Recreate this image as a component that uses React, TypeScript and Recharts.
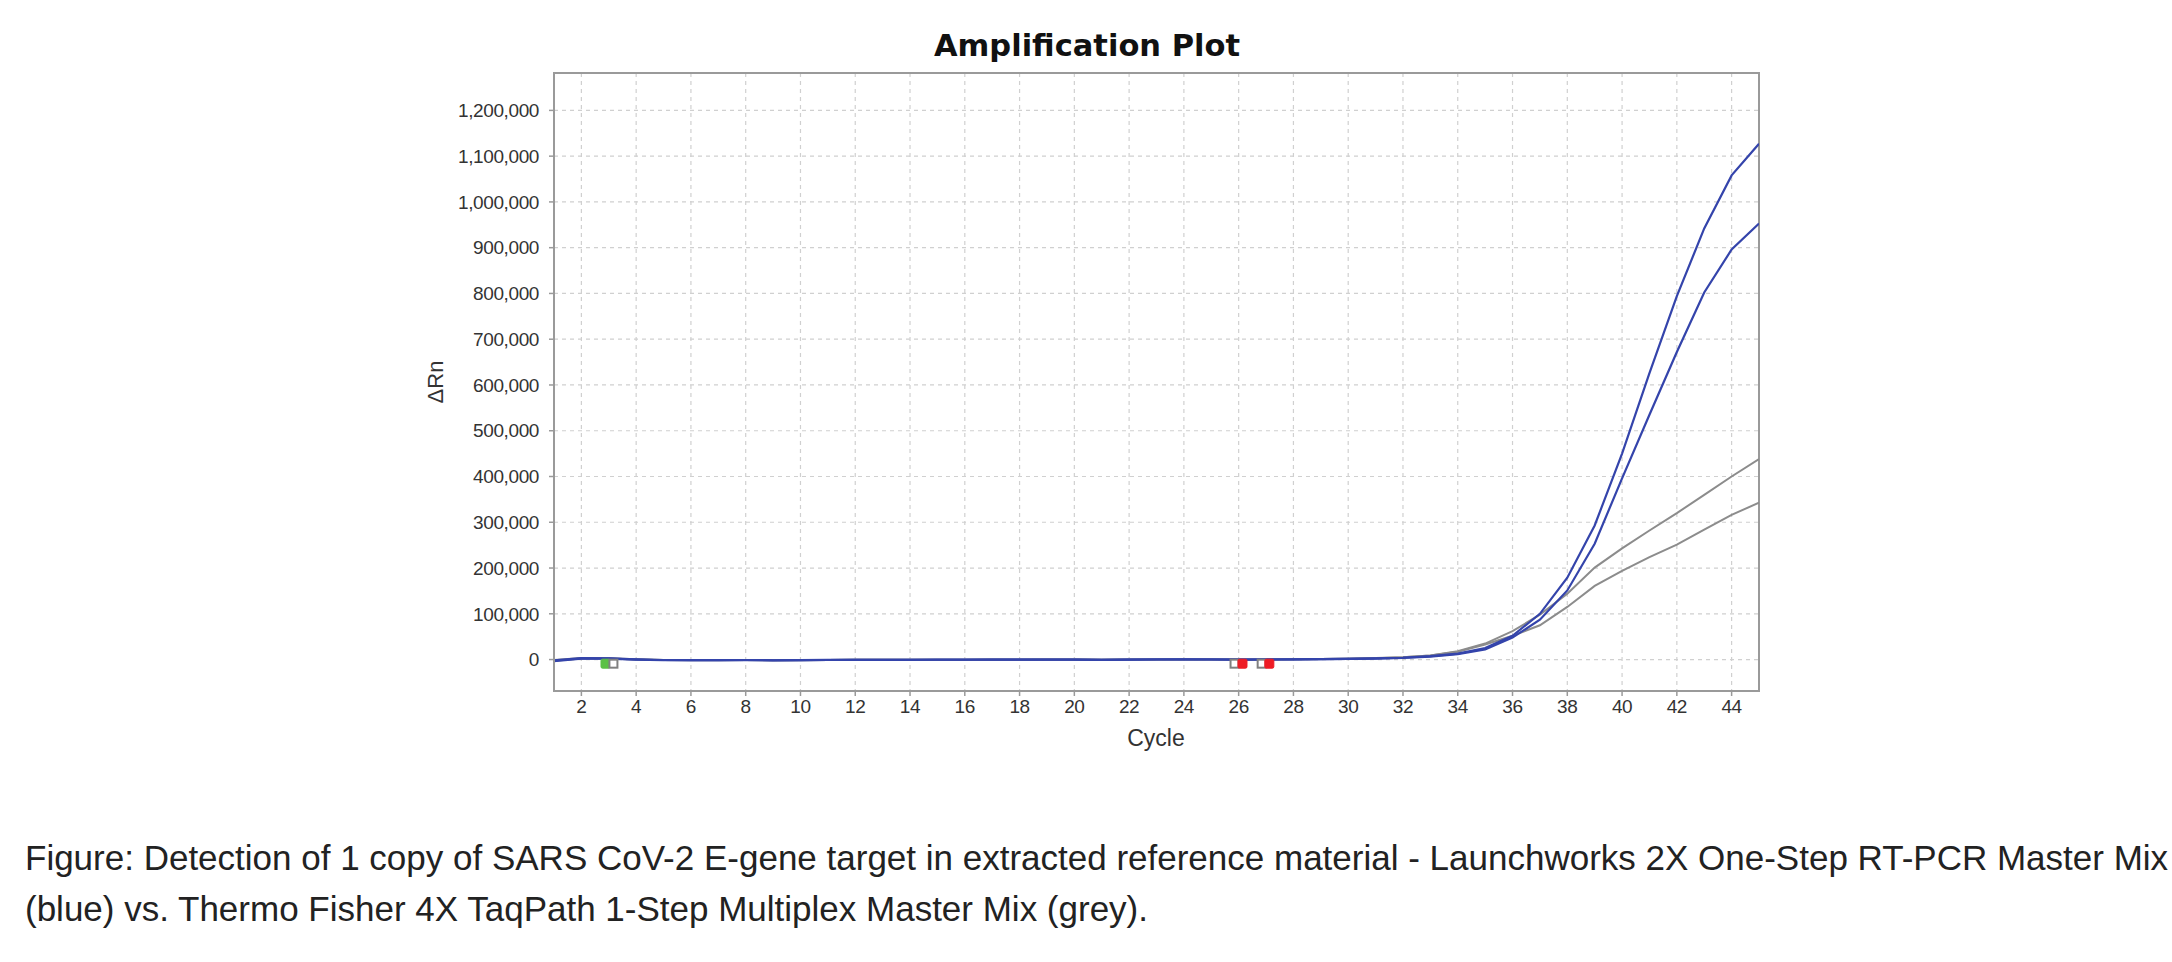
import { ComposedChart, Line, XAxis, YAxis, CartesianGrid, ReferenceArea, ReferenceDot } from 'recharts';

// amplification cycles
const cycles = [
  1, 2, 3, 4, 5, 6, 7, 8, 9, 10, 11, 12, 13, 14, 15, 16, 17, 18, 19, 20, 21, 22, 23,
  24, 25, 26, 27, 28, 29, 30, 31, 32, 33, 34, 35, 36, 37, 38, 39, 40, 41, 42, 43, 44, 45,
];

// Launchworks 2X One-Step RT-PCR Master Mix (blue)
const launchworksA = [
  -2000, 3000, 2500, 500, -1000, -1200, -1200, -1000, -1500, -1200, -800, -500, -500, -400, -300,
  -300, -200, -200, 0, 0, -500, 0, 200, 300, 200, 0, 200, 500, 1000, 1500,
  2500, 4000, 7500, 13000, 25000, 52000, 100000, 179000, 293000, 450000, 626000, 794000, 942000, 1058000, 1127000,
];
const launchworksB = [
  -3500, 2000, 2000, 0, -1500, -1500, -1400, -1200, -1600, -1400, -1000, -700, -600, -500, -400,
  -400, -300, -300, -100, -100, -600, -100, 100, 200, 100, -100, 100, 400, 800, 1300,
  2200, 3600, 6500, 12000, 22000, 48000, 87000, 151000, 253000, 396000, 535000, 672000, 802000, 896000, 953000,
];

// Thermo Fisher 4X TaqPath 1-Step Multiplex Master Mix (grey)
const taqpathA = [
  -1000, 3500, 3000, 800, -800, -1000, -1000, -900, -1300, -1000, -700, -400, -400, -300, -200,
  -200, -100, -100, 100, 100, -400, 100, 300, 400, 300, 100, 300, 700, 1300, 2000,
  3200, 5000, 9000, 18000, 35000, 62000, 98000, 144000, 201000, 243000, 282000, 320000, 360000, 400000, 438000,
];
const taqpathB = [
  -2500, 2500, 2500, 300, -1200, -1300, -1300, -1100, -1500, -1300, -900, -600, -500, -400, -300,
  -300, -200, -200, 0, 0, -500, 0, 200, 300, 200, 0, 200, 600, 1100, 1800,
  3000, 4800, 9000, 17000, 33000, 52000, 75000, 115000, 161000, 194000, 224000, 251000, 284000, 316000, 343000,
];

const xTicks = [2, 4, 6, 8, 10, 12, 14, 16, 18, 20, 22, 24, 26, 28, 30, 32, 34, 36, 38, 40, 42, 44];
const yTicks = [0, 100000, 200000, 300000, 400000, 500000, 600000, 700000, 800000, 900000, 1000000, 1100000, 1200000];
const xDomain: [number, number] = [1, 45];
const yDomain: [number, number] = [-68700, 1281700];

// baseline start / end flags under the curves
const markerCycles = [2.88, 3.17, 25.85, 26.14, 26.84, 27.12];
const markerKinds = ['start', 'open', 'open', 'end', 'open', 'end'];
const markerValue = -9000;

const markerStyle: Record<string, { fill: string; stroke: string }> = {
  start: { fill: '#5cc046', stroke: '#5cc046' },
  end: { fill: '#ee1c25', stroke: '#ee1c25' },
  open: { fill: '#ffffff', stroke: '#808080' },
};

const data = cycles.map((cycle, i) => ({
  cycle,
  lwA: launchworksA[i],
  lwB: launchworksB[i],
  tpA: taqpathA[i],
  tpB: taqpathB[i],
}));

const BLUE = '#3444ab';
const GREY = '#8c8c8c';
const AXIS = '#9a9a9a';
const tickFont = { fontFamily: 'Liberation Sans, Arial, sans-serif', fontSize: 19, fill: '#333', letterSpacing: -0.4 };

function FlagSquare(props: any) {
  const { cx, cy, kind } = props;
  const s = markerStyle[kind];
  if (kind === 'open') {
    return <rect x={cx - 4} y={cy - 4} width={8} height={8} fill={s.fill} stroke={s.stroke} strokeWidth={2} />;
  }
  return <rect x={cx - 4.5} y={cy - 4.5} width={9} height={9} rx={1.5} fill={s.fill} stroke={s.stroke} strokeWidth={1} />;
}

export default function App() {
  return (
    <div style={{ position: 'absolute', left: 0, top: 0, width: 2172, height: 962, background: '#fff' }}>
      <ComposedChart
        width={2172}
        height={962}
        data={data}
        margin={{ top: 73, right: 413, bottom: 221, left: 0 }}
      >
        <CartesianGrid stroke="#d0d0d0" strokeDasharray="4 4" strokeWidth={1.2} />
        <XAxis
          dataKey="cycle"
          type="number"
          domain={xDomain}
          ticks={xTicks}
          allowDataOverflow
          height={50}
          tickSize={5}
          tickMargin={4}
          stroke={AXIS}
          axisLine={{ stroke: AXIS, strokeWidth: 2 }}
          tickLine={{ stroke: AXIS, strokeWidth: 1.5 }}
          tick={tickFont}
        />
        <YAxis
          type="number"
          domain={yDomain}
          ticks={yTicks}
          allowDataOverflow
          width={554}
          tickSize={5}
          tickMargin={10}
          stroke={AXIS}
          axisLine={{ stroke: AXIS, strokeWidth: 2 }}
          tickLine={{ stroke: AXIS, strokeWidth: 1.5 }}
          tick={tickFont}
          tickFormatter={(v: number) => v.toLocaleString('en-US')}
        />
        <ReferenceArea
          x1={xDomain[0]}
          x2={xDomain[1]}
          y1={yDomain[0]}
          y2={yDomain[1]}
          fill="none"
          stroke={AXIS}
          strokeWidth={2}
          ifOverflow="visible"
        />
        <Line type="linear" dataKey="tpA" stroke={GREY} strokeWidth={2} dot={false} isAnimationActive={false} />
        <Line type="linear" dataKey="tpB" stroke={GREY} strokeWidth={2} dot={false} isAnimationActive={false} />
        <Line type="linear" dataKey="lwB" stroke={BLUE} strokeWidth={2.2} dot={false} isAnimationActive={false} />
        <Line type="linear" dataKey="lwA" stroke={BLUE} strokeWidth={2.2} dot={false} isAnimationActive={false} />
        {markerCycles.map((c, i) => (
          <ReferenceDot
            key={`flag-${i}`}
            x={c}
            y={markerValue}
            r={5}
            shape={(p: any) => <FlagSquare {...p} kind={markerKinds[i]} />}
          />
        ))}
      </ComposedChart>

      <svg
        width={2172}
        height={962}
        style={{ position: 'absolute', left: 0, top: 0, pointerEvents: 'none' }}
      >
        <text
          x={1087}
          y={56}
          textAnchor="middle"
          fontFamily="DejaVu Sans, Verdana, sans-serif"
          fontWeight="bold"
          fontSize={30.5}
          fill="#111"
        >
          Amplification Plot
        </text>
        <text
          x={443}
          y={382}
          transform="rotate(-90 443 382)"
          textAnchor="middle"
          fontFamily="Liberation Sans, Arial, sans-serif"
          fontSize={22}
          fill="#333"
        >
          ΔRn
        </text>
        <text
          x={1156}
          y={746}
          textAnchor="middle"
          fontFamily="Liberation Sans, Arial, sans-serif"
          fontSize={23}
          fill="#333"
        >
          Cycle
        </text>
        <g fontFamily="Liberation Sans, Arial, sans-serif" fontSize={35} fill="#222">
          <text x={25} y={870}>
            Figure: Detection of 1 copy of SARS CoV-2 E-gene target in extracted reference material - Launchworks 2X One-Step RT-PCR Master Mix
          </text>
          <text x={25} y={921}>
            (blue) vs. Thermo Fisher 4X TaqPath 1-Step Multiplex Master Mix (grey).
          </text>
        </g>
      </svg>
    </div>
  );
}
